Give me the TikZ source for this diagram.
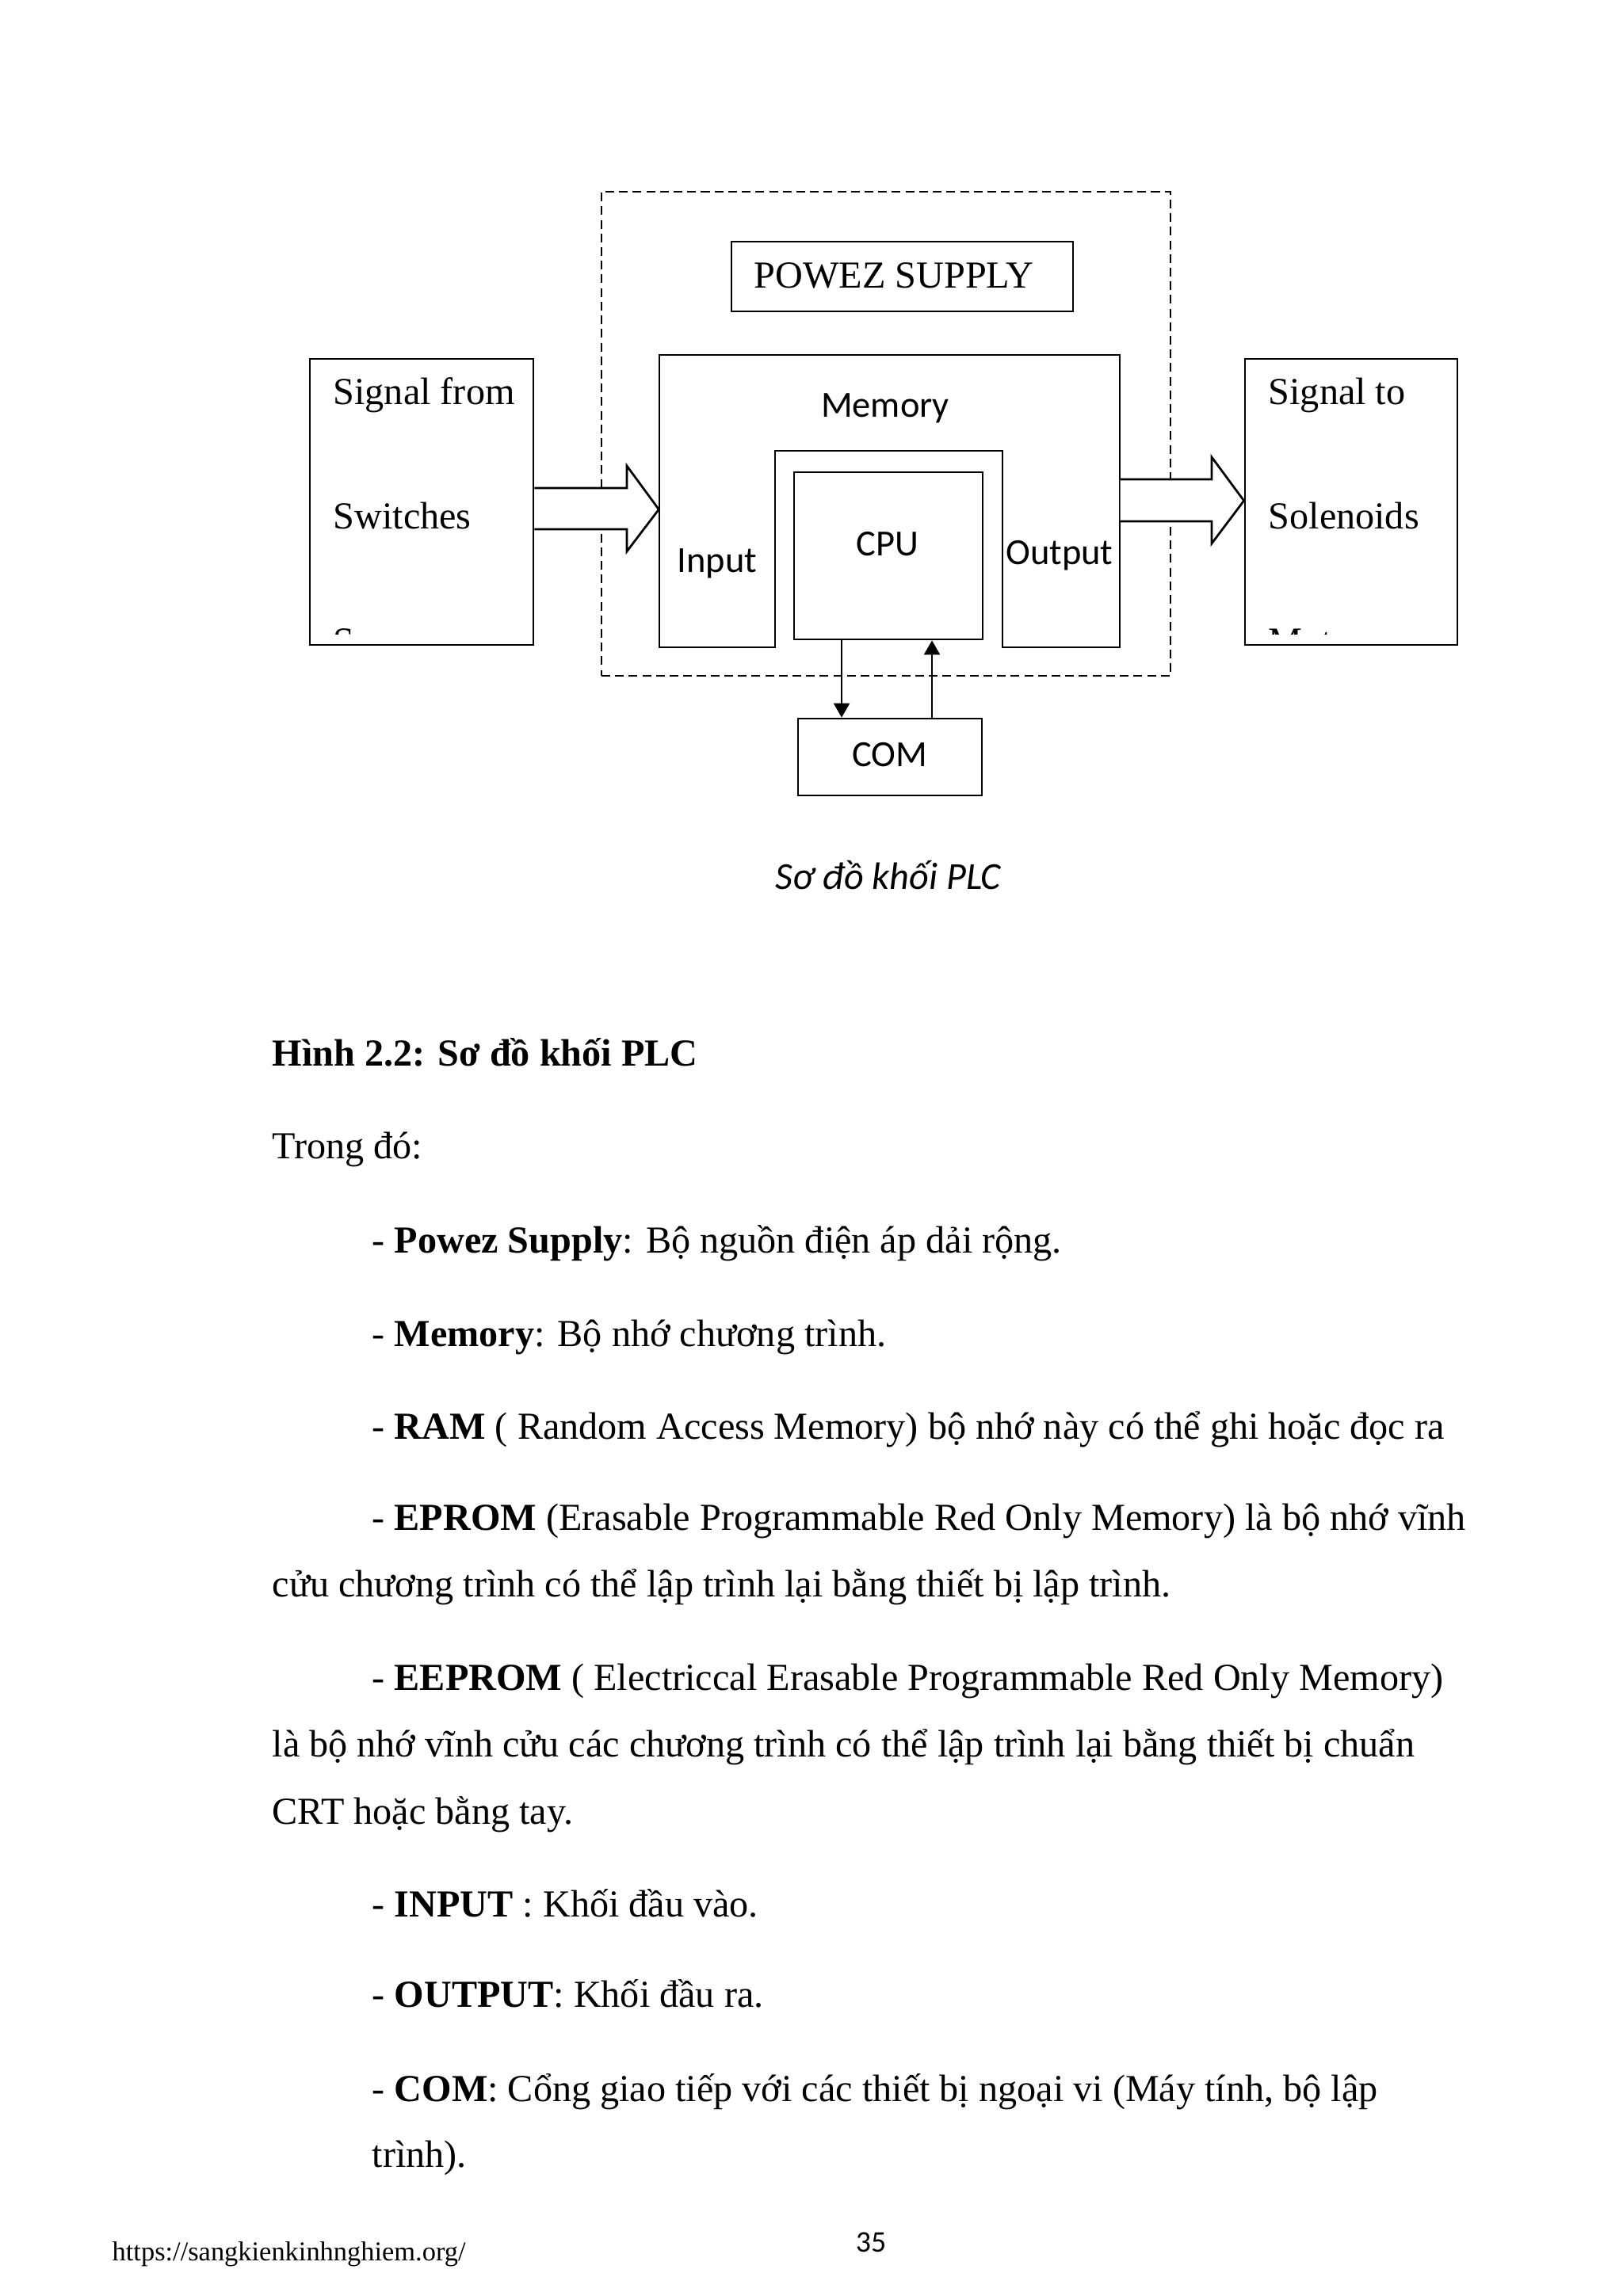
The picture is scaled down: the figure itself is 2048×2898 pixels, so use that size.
\documentclass[tikz,border=0pt]{standalone}
\usepackage{fontspec}
\setmainfont{Liberation Serif}
\newfontfamily\calfont{Carlito}
\usetikzlibrary{fit,arrows.meta}
\begin{document}
\begin{tikzpicture}[x=0.2905pt,y=-0.2905pt,
  box/.style={draw,line width=0.8pt,inner sep=0pt},
  dashbox/.style={draw,line width=0.7pt,inner sep=0pt,dash pattern=on 3.2pt off 1.8pt},
  fatarrow/.style={draw,fill=white,line width=0.8pt,line join=miter},
  thinarrow/.style={draw,line width=0.6pt,-{Triangle[width=5.8pt,length=5.2pt]}},
  tnr/.style={inner sep=0pt,anchor=base west,font=\fontsize{14}{16}\selectfont},
  tnrc/.style={inner sep=0pt,anchor=base,font=\fontsize{14}{16}\selectfont},
  cal/.style={inner sep=0pt,anchor=base,font=\calfont\fontsize{13.5}{15}\selectfont},
  body/.style={inner sep=0pt,anchor=base west,font=\fontsize{14}{16}\selectfont}]
\useasboundingbox[fill=white] (0,0) rectangle (2048,2898);

% dashed PLC frame
\node[dashbox, fit={(759,242)(1477,853)}] (plc) {};

% power supply
\node[box, fit={(923,305)(1354,393)}] (psu) {};
\node[tnrc] (psut) at (1128,364) {POWEZ SUPPLY};

% source and sink boxes
\node[box, fit={(391,453)(673,814)}] (src) {};
\node[box, fit={(1571,453)(1839,814)}] (dst) {};
\node[tnr] (s1) at (420,511) {Signal from};
\node[tnr] (s2) at (420,668) {Switches};
\node[tnr] (d1) at (1600,511) {Signal to};
\node[tnr] (d2) at (1600,668) {Solenoids};
\begin{scope}
  \clip (393,455) rectangle (671,801);
  \node[tnr] (s3) at (420,826) {Sensors};
\end{scope}
\begin{scope}
  \clip (1573,455) rectangle (1837,801);
  \node[tnr] (d3) at (1600,826) {Motors};
\end{scope}

% memory block
\draw[line width=0.8pt] (832,448) -- (832,817) -- (978,817) -- (978,569) -- (1265,569)
  -- (1265,817) -- (1413,817) -- (1413,448) -- cycle;
\node[inner sep=0pt, fit={(832,448)(1413,817)}] (mem) {};
\node[cal] (memt) at (1117,527) {Memory};
\node[cal] (inp) at (905,723) {Input};
\node[cal] (outp) at (1337,713) {Output};

% CPU
\node[box, fit={(1002,596)(1240,807)}] (cpu) {};
\node[cal] (cput) at (1120,702) {CPU};

% COM
\node[box, fit={(1007,907)(1239,1004)}] (com) {};
\node[cal] (comt) at (1123,967) {COM};

% fat arrows
\path[fatarrow] (src.east |- 0,616) -- (791,616) -- (791,588) -- (mem.west |- 0,643)
  -- (791,696) -- (791,668) -- (src.east |- 0,668);
\path[fatarrow] (mem.east |- 0,605) -- (1529,605) -- (1529,577) -- (dst.west |- 0,632)
  -- (1529,686) -- (1529,658) -- (mem.east |- 0,658);

% CPU <-> COM
\coordinate (ax1) at (1062,0);
\coordinate (ax2) at (1176,0);
\draw[thinarrow] (cpu.south -| ax1) -- (com.north -| ax1);
\draw[thinarrow] (com.north -| ax2) -- (cpu.south -| ax2);

% caption
\node[inner sep=0pt,anchor=base,font=\calfont\itshape\fontsize{14}{16}\selectfont] (cap) at (1121,1122) {Sơ đồ khối PLC};

% body text
\node[body] (l1) at (343,1345) {\textbf{Hình 2.2: Sơ đồ khối PLC}};
\node[body] (l2) at (343,1462) {Trong đó:};
\node[body] (l3) at (469,1581) {- \textbf{Powez Supply}: Bộ nguồn điện áp dải rộng.};
\node[body] (l4) at (469,1699) {- \textbf{Memory}: Bộ nhớ chương trình.};
\node[body] (l5) at (469,1816) {- \textbf{RAM} ( Random Access Memory) bộ nhớ này có thể ghi hoặc đọc ra};
\node[body] (l6) at (469,1931) {- \textbf{EPROM} (Erasable Programmable Red Only Memory) là bộ nhớ vĩnh};
\node[body] (l7) at (343,2015) {cửu chương trình có thể lập trình lại bằng thiết bị lập trình.};
\node[body] (l8) at (469,2133) {- \textbf{EEPROM} ( Electriccal Erasable Programmable Red Only Memory)};
\node[body] (l9) at (343,2217) {là bộ nhớ vĩnh cửu các chương trình có thể lập trình lại bằng thiết bị chuẩn};
\node[body] (l10) at (343,2302) {CRT hoặc bằng tay.};
\node[body] (l11) at (469,2419) {- \textbf{INPUT} : Khối đầu vào.};
\node[body] (l12) at (469,2533) {- \textbf{OUTPUT}: Khối đầu ra.};
\node[body] (l13) at (469,2652) {- \textbf{COM}: Cổng giao tiếp với các thiết bị ngoại vi (Máy tính, bộ lập};
\node[body] (l14) at (469,2735) {trình).};

% footer
\node[inner sep=0pt,anchor=base,font=\calfont\fontsize{11}{13}\selectfont] (pg) at (1099,2842) {35};
\node[inner sep=0pt,anchor=base west,font=\fontsize{10}{12}\selectfont] (url) at (141,2853) {https://sangkienkinhnghiem.org/};
\end{tikzpicture}
\end{document}
